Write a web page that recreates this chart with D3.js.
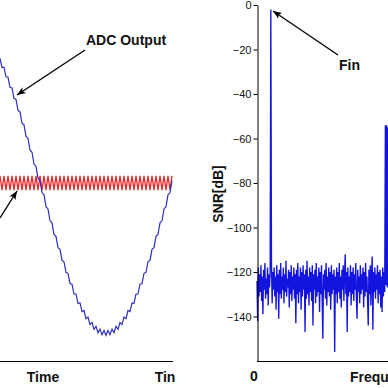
<!DOCTYPE html>
<html lang="en">
<head>
<meta charset="UTF-8">
<title>ADC Output and Spectrum</title>
<script src="https://d3js.org/d3.v7.min.js"></script>
<style>
    body { margin: 0; background: #fff; }
    svg text { font-family: "Liberation Sans", Arial, sans-serif; }
    .lbl { font-weight: bold; font-size: 14px; fill: #111; }
    .tick text { font-size: 11px; fill: #111; }
</style>
</head>
<body>
<div id="fig"></div>
<script>
    // left panel, one sample every step of time (full-scale units)
    let adcOutput = [
        0.830, 0.770, 0.772, 0.708, 0.706, 0.638, 0.634, 0.564, 0.557, 0.484,
        0.474, 0.399, 0.388, 0.311, 0.298, 0.220, 0.205, 0.126, 0.111, 0.032,
        0.016, -0.064, -0.079, -0.158, -0.173, -0.252, -0.266, -0.343, -0.356, -0.431,
        -0.442, -0.516, -0.525, -0.596, -0.602, -0.670, -0.674, -0.740, -0.740, -0.802,
        -0.799, -0.857, -0.850, -0.905, -0.894, -0.944, -0.929, -0.976, -0.956, -0.998,
        -0.974, -1.011, -0.983, -1.016, -0.983, -1.011, -0.974, -0.998, -0.956, -0.976,
        -0.929, -0.944, -0.894, -0.905, -0.850, -0.857, -0.799, -0.802, -0.740, -0.740,
        -0.674, -0.670, -0.602, -0.596, -0.525, -0.516, -0.442, -0.431, -0.356, -0.343,
        -0.266, -0.252, -0.173, -0.158, -0.079, -0.064, 0.016
    ]
    let inputTone = [
        0.047, -0.047, 0.047, -0.047, 0.047, -0.047, 0.047, -0.047, 0.047, -0.047,
        0.047, -0.047, 0.047, -0.047, 0.047, -0.047, 0.047, -0.047, 0.047, -0.047,
        0.047, -0.047, 0.047, -0.047, 0.047, -0.047, 0.047, -0.047, 0.047, -0.047,
        0.047, -0.047, 0.047, -0.047, 0.047, -0.047, 0.047, -0.047, 0.047, -0.047,
        0.047, -0.047, 0.047, -0.047, 0.047, -0.047, 0.047, -0.047, 0.047, -0.047,
        0.047, -0.047, 0.047, -0.047, 0.047, -0.047, 0.047, -0.047, 0.047, -0.047,
        0.047, -0.047, 0.047, -0.047, 0.047, -0.047, 0.047, -0.047, 0.047, -0.047,
        0.047, -0.047, 0.047, -0.047, 0.047, -0.047, 0.047, -0.047, 0.047, -0.047,
        0.047, -0.047, 0.047, -0.047, 0.047, -0.047, 0.047
    ]
    let timeLabels = ["Time", "Tin"]

    // right panel, spectrum in dB per bin
    let spectrumDb = [
        -124, -142, -118, -131, -121, -129, -117, -133, -122, -139, -119, -128, -116, -132, -123, -130, -118, -135, -121, -127,
        -120, -2, -116, -134, -120, -128, -118, -131, -122, -137, -117, -129, -121, -141, -119, -130, -116, -132, -122, -128,
        -118, -134, -121, -129, -115, -131, -123, -127, -119, -136, -120, -130, -117, -133, -122, -128, -118, -132, -121, -143,
        -119, -130, -116, -134, -122, -129, -118, -137, -120, -131, -117, -128, -121, -147, -119, -132, -115, -130, -122, -135,
        -118, -129, -120, -133, -117, -144, -121, -128, -119, -134, -116, -131, -122, -129, -118, -138, -120, -130, -117, -133,
        -150, -121, -128, -119, -132, -116, -135, -122, -129, -118, -131, -120, -137, -117, -130, -121, -128, -119, -156, -122,
        -130, -118, -134, -120, -129, -116, -132, -122, -136, -119, -128, -117, -133, -121, -112, -130, -120, -147, -118, -131,
        -122, -129, -117, -135, -120, -130, -118, -133, -121, -128, -116, -132, -141, -119, -129, -122, -134, -117, -130, -121,
        -128, -118, -136, -120, -131, -116, -129, -122, -133, -144, -119, -130, -117, -135, -121, -113, -146, -120, -129, -118,
        -132, -121, -128, -117, -134, -120, -130, -119, -136, -122, -138, -118, -131, -120, -129, -54, -126, -54, -127, -55
    ]
    let dbTicks = [0, -20, -40, -60, -80, -100, -120, -140]
    let freqLabels = ["0", "Frequency"]

    let W = 388, H = 388
    let svg = d3.select("#fig").append("svg")
        .attr("width", W).attr("height", H)
        .style("display", "block")
    svg.append("rect").attr("width", W).attr("height", H).attr("fill", "#fff")

    let head = svg.append("defs").append("marker")
        .attr("id", "head")
        .attr("viewBox", "0 0 10 8")
        .attr("refX", 10).attr("refY", 4)
        .attr("markerWidth", 10).attr("markerHeight", 7)
        .attr("markerUnits", "userSpaceOnUse")
        .attr("orient", "auto")
    head.append("path").attr("d", "M0,0 L10,4 L0,8 L2.5,4 Z").attr("fill", "#000")

    function arrow(x1, y1, x2, y2) {
        svg.append("line")
            .attr("x1", x1).attr("y1", y1).attr("x2", x2).attr("y2", y2)
            .attr("stroke", "#000").attr("stroke-width", 1.4)
            .attr("marker-end", "url(#head)")
    }

    // ---- left panel ----
    let xL = d3.scaleLinear().domain([0, adcOutput.length - 1]).range([0, 172])
    let yL = d3.scaleLinear().domain([-1, 1]).range([333, 33])
    let lineL = d3.line().x((d, i) => xL(i)).y(d => yL(d))

    svg.append("path").datum(inputTone)
        .attr("d", lineL)
        .attr("fill", "none").attr("stroke", "#e8272c").attr("stroke-width", 1.3)
    svg.append("path").datum(adcOutput)
        .attr("d", lineL)
        .attr("fill", "none").attr("stroke", "#2e2ec2").attr("stroke-width", 1.2)

    svg.append("line")
        .attr("x1", xL(0)).attr("x2", xL(adcOutput.length - 1) + 1)
        .attr("y1", 361.5).attr("y2", 361.5)
        .attr("stroke", "#000").attr("stroke-width", 1)

    svg.append("text").attr("class", "lbl").attr("x", 43).attr("y", 382)
        .attr("text-anchor", "middle").text(timeLabels[0])
    svg.append("text").attr("class", "lbl").attr("x", 165).attr("y", 382)
        .attr("text-anchor", "middle").text(timeLabels[1])

    svg.append("text").attr("class", "lbl").attr("x", 86).attr("y", 45).text("ADC Output")
    arrow(85, 50, 17, 95)
    arrow(0, 218, 17, 191)

    // ---- right panel ----
    let xR = d3.scaleLinear().domain([0, spectrumDb.length - 1]).range([257, 388])
    let yR = d3.scaleLinear().domain([-160, 0]).range([361, 5])

    svg.append("path").datum(spectrumDb)
        .attr("d", d3.line().x((d, i) => xR(i)).y(d => yR(d)))
        .attr("fill", "none").attr("stroke", "#1414e0").attr("stroke-width", 1.35)

    svg.append("g")
        .attr("transform", "translate(257.5,0)")
        .call(d3.axisLeft(yR).tickValues(dbTicks).tickSize(4).tickSizeOuter(0).tickPadding(2))
        .call(g => g.selectAll("path,line").attr("stroke", "#000"))
    svg.append("line")
        .attr("x1", 257).attr("x2", W).attr("y1", 361.5).attr("y2", 361.5)
        .attr("stroke", "#000").attr("stroke-width", 1)

    svg.append("text").attr("class", "lbl").attr("x", 254).attr("y", 381)
        .attr("text-anchor", "middle").text(freqLabels[0])
    svg.append("text").attr("class", "lbl").attr("x", 350).attr("y", 382)
        .text(freqLabels[1])

    svg.append("text").attr("class", "lbl")
        .attr("transform", "translate(223,194) rotate(-90)")
        .attr("text-anchor", "middle").text("SNR[dB]")

    svg.append("text").attr("class", "lbl").attr("x", 339).attr("y", 70).text("Fin")
    arrow(338, 55, 273, 11)
</script>
</body>
</html>
